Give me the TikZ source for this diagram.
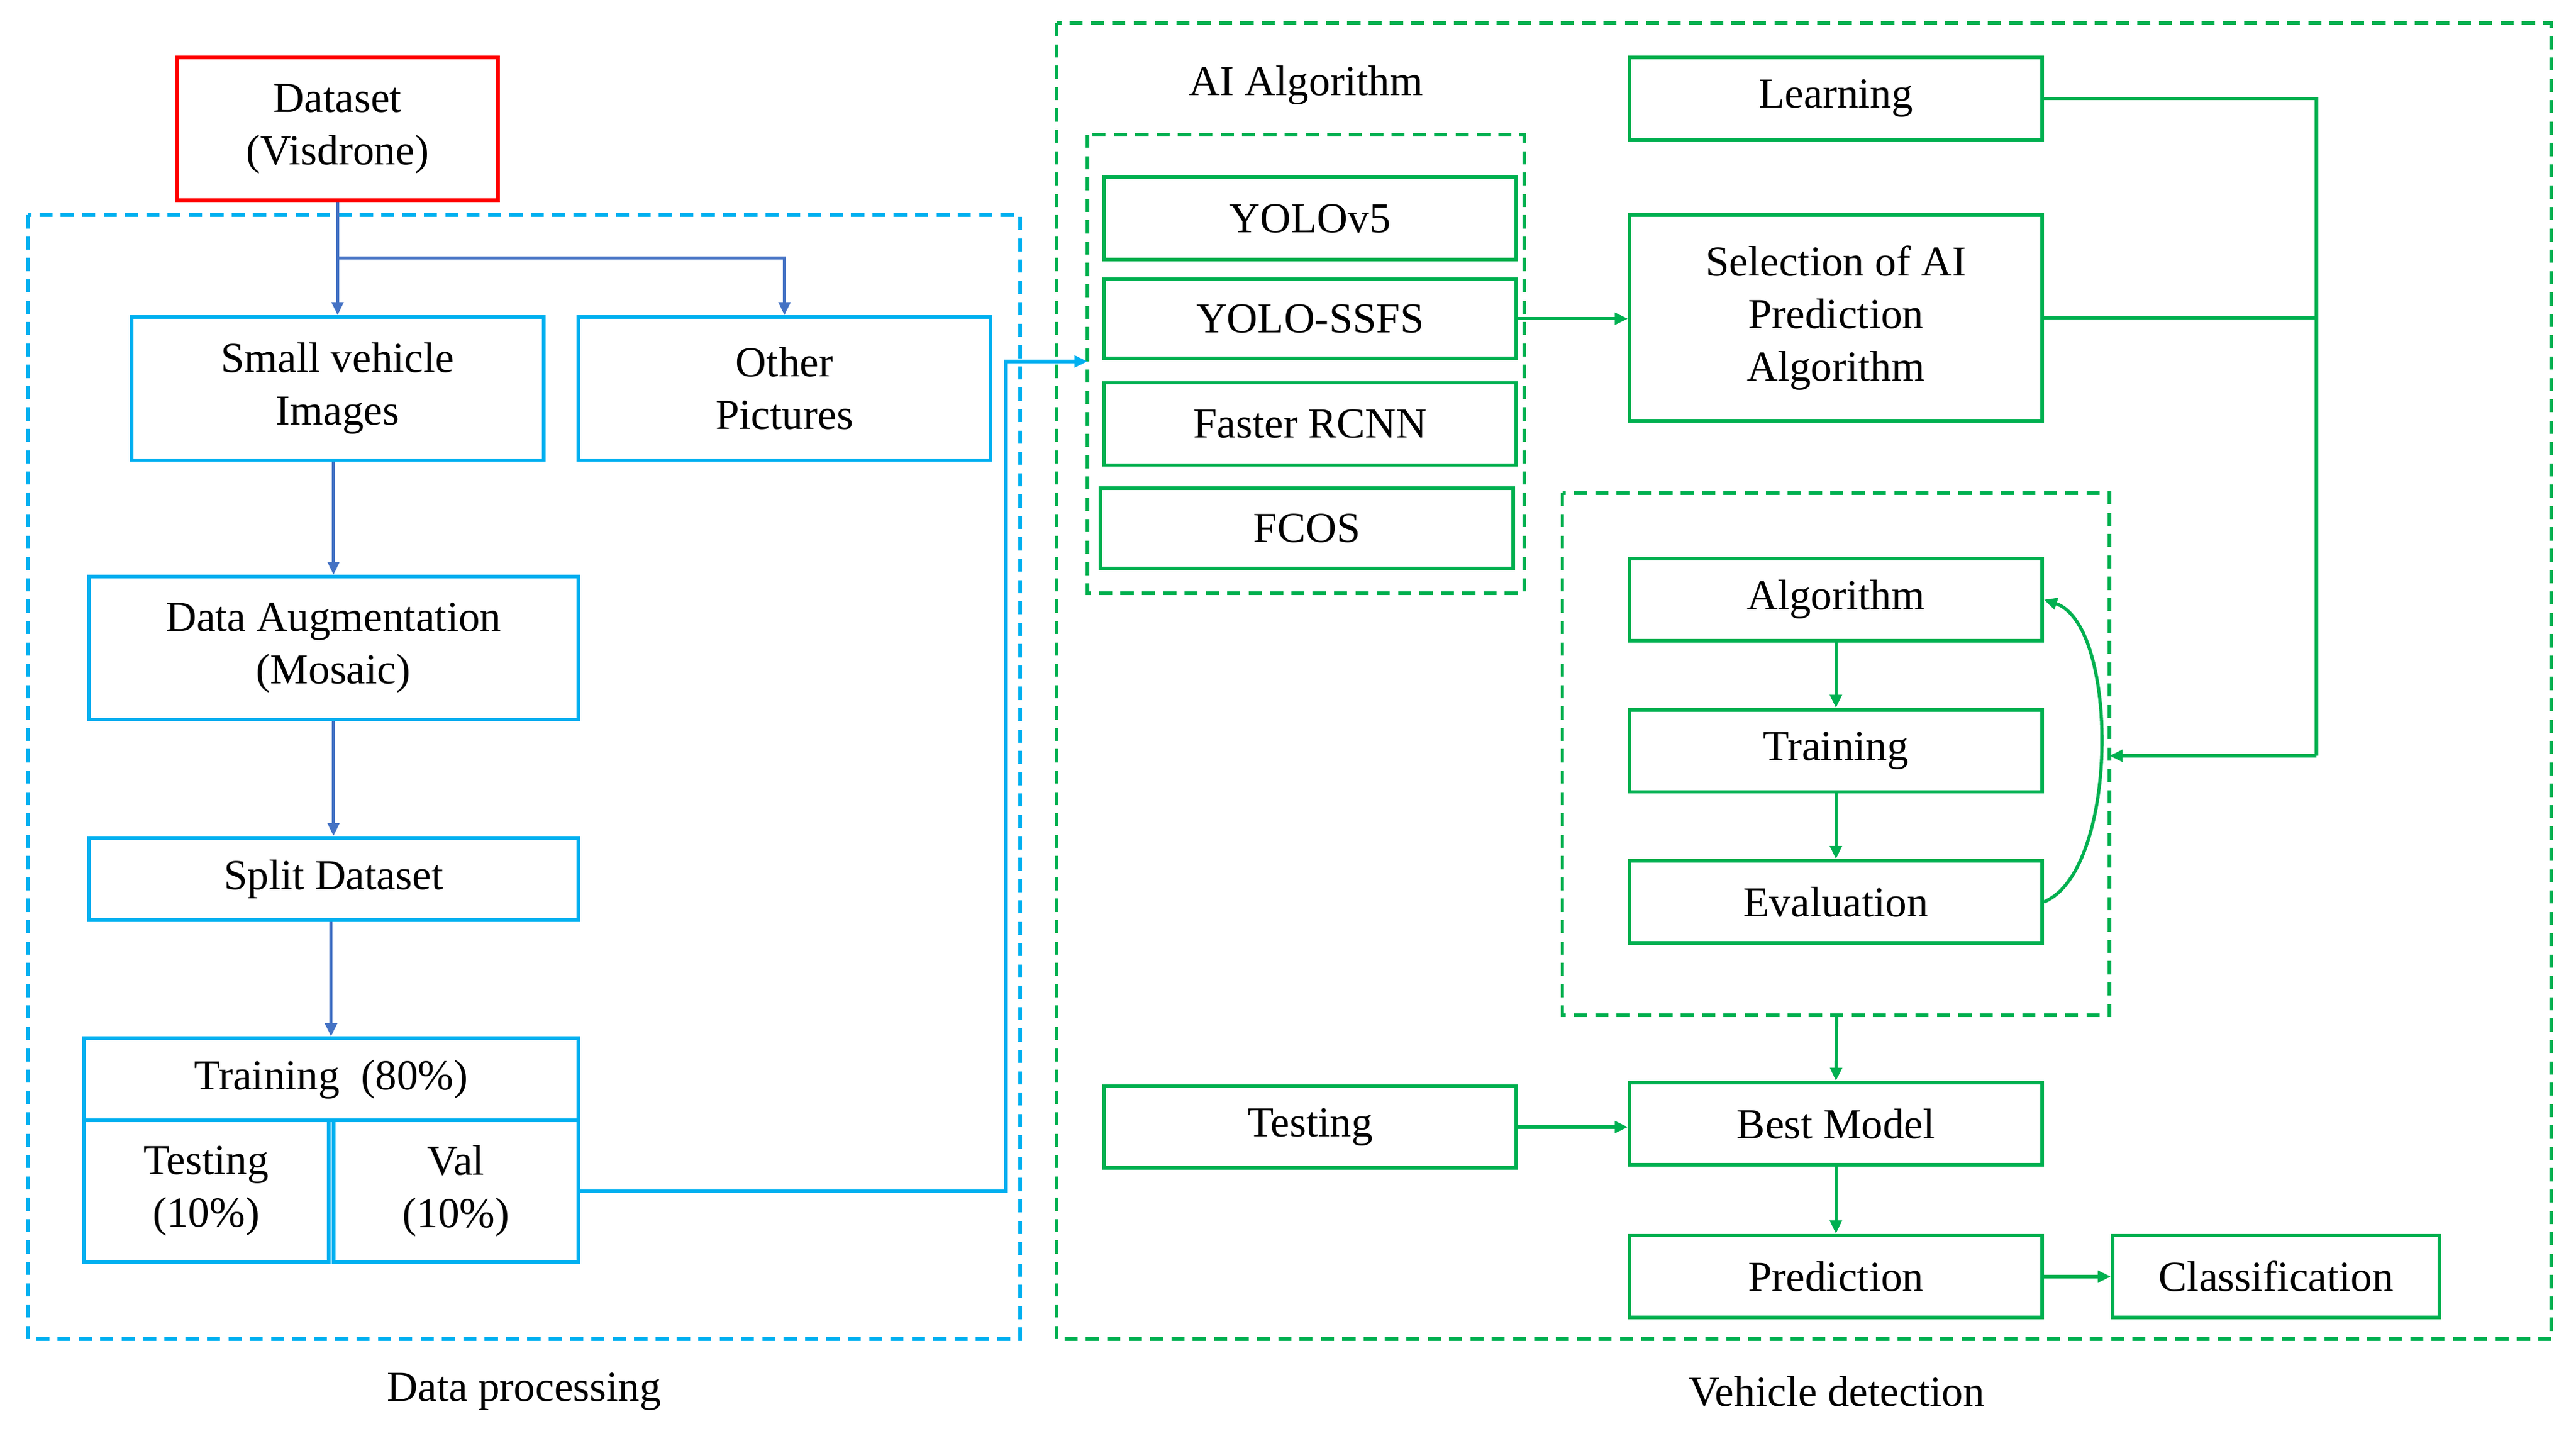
\documentclass[tikz,border=0pt]{standalone}
\usepackage{fontspec}
\setmainfont{Liberation Serif}
\usetikzlibrary{arrows.meta}
\definecolor{cb}{RGB}{0,176,240}
\definecolor{ab}{RGB}{68,114,196}
\definecolor{gr}{RGB}{0,176,80}
\begin{document}
\begin{tikzpicture}[x=1pt,y=-1pt,
  every node/.style={font=\fontsize{26}{32}\selectfont,align=center,inner sep=0},
  bb/.style={draw=cb,line width=2.2pt},
  gb/.style={draw=gr,line width=2.2pt},
  ba/.style={draw=ab,line width=2pt,-{Triangle[length=8pt,width=7pt]}},
  ga/.style={draw=gr,line width=2pt,-{Triangle[length=8pt,width=7pt]}},
  gl/.style={draw=gr,line width=2pt}]
\useasboundingbox (0,0) rectangle (1568,877);
\draw[cb,dashed,line width=2.2pt,dash pattern=on 8pt off 5pt] (17,131) rectangle (621,815);
\draw[gr,dashed,line width=2.2pt,dash pattern=on 8pt off 5pt] (643,14) rectangle (1553,815);
\draw[gr,dashed,line width=2.2pt,dash pattern=on 8pt off 5pt] (662,82) rectangle (928,361);
\draw[gr,dashed,line width=2.2pt,dash pattern=on 8pt off 5pt] (951,300) rectangle (1284,618);
\node[draw=red,line width=2.2pt,minimum width=195pt,minimum height=87pt] (ds) at (205.5,78.5) {Dataset\\(Visdrone)};
\node[bb,minimum width=251pt,minimum height=87pt] (sv) at (205.5,236.5) {Small vehicle\\Images};
\node[bb,minimum width=251pt,minimum height=87pt] (op) at (477.5,236.5) {Other\\Pictures};
\node[bb,minimum width=298pt,minimum height=87pt] (da) at (203,394.5) {Data Augmentation\\(Mosaic)};
\node[bb,minimum width=298pt,minimum height=50pt] (sd) at (203,535) {Split Dataset};
\node[bb,minimum width=301pt,minimum height=50pt] (tr) at (201.5,657) {Training\ \ (80\%)};
\node[bb,minimum width=149pt,minimum height=86pt] (te) at (125.5,725) {Testing\\(10\%)};
\node[bb,minimum width=149pt,minimum height=86pt] (va) at (277.5,725) {Val\\(10\%)};
\node (cap1) at (319,847) {Data processing};
\node (cap2) at (1118,847) {Vehicle detection};
\node (ai) at (795,52) {AI Algorithm};
\node[gb,minimum width=251pt,minimum height=50pt] (y5) at (797.5,133) {YOLOv5};
\node[gb,minimum width=251pt,minimum height=48pt] (ys) at (797.5,194) {YOLO-SSFS};
\node[gb,minimum width=251pt,minimum height=50pt] (fr) at (797.5,258) {Faster RCNN};
\node[gb,minimum width=251pt,minimum height=49pt] (fc) at (795.5,321.5) {FCOS};
\node[gb,minimum width=251pt,minimum height=50pt] (le) at (1117.5,60) {Learning};
\node[gb,minimum width=251pt,minimum height=125pt] (se) at (1117.5,193.5) {Selection of AI\\Prediction\\Algorithm};
\node[gb,minimum width=251pt,minimum height=50pt] (al) at (1117.5,365) {Algorithm};
\node[gb,minimum width=251pt,minimum height=50pt] (tn) at (1117.5,457) {Training};
\node[gb,minimum width=251pt,minimum height=50pt] (ev) at (1117.5,549) {Evaluation};
\node[gb,minimum width=251pt,minimum height=50pt] (ts) at (797.5,686) {Testing};
\node[gb,minimum width=251pt,minimum height=50pt] (bm) at (1117.5,684) {Best Model};
\node[gb,minimum width=251pt,minimum height=50pt] (pr) at (1117.5,777) {Prediction};
\node[gb,minimum width=199pt,minimum height=50pt] (cl) at (1385.5,777) {Classification};
\coordinate (inl) at (662,220);
\coordinate (inb) at (1284,460);
\coordinate (inbot) at (1118,618);
% blue
\draw[ba] (ds.south) -- (sv.north);
\draw[ba] (205.5,157) -| (op.north);
\draw[ba] (sv.south -| da.north) -- (da.north);
\draw[ba] (da.south) -- (sd.north);
\draw[ba] (sd.south -| tr.north) -- (tr.north);
\draw[draw=cb,line width=2pt,-{Triangle[length=8pt,width=7pt]}] (va.east) -- (612,725) |- (inl);
% green
\draw[ga] (ys.east) -- (ys.east -| se.west);
\draw[gl] (le.east) -- (1410,60) -- (1410,460);
\draw[gl] (se.east) -- (1410,193.5);
\draw[ga] (1410,460) -- (inb);
\draw[ga] (al.south) -- (tn.north);
\draw[ga] (tn.south) -- (ev.north);
\draw[ga] (ev.east) .. controls (1290,530) and (1290,380) .. (al.east);
\draw[ga] (inbot) -- (bm.north);
\draw[ga] (ts.east) -- (ts.east -| bm.west);
\draw[ga] (bm.south) -- (pr.north);
\draw[ga] (pr.east) -- (cl.west);
\end{tikzpicture}
\end{document}
